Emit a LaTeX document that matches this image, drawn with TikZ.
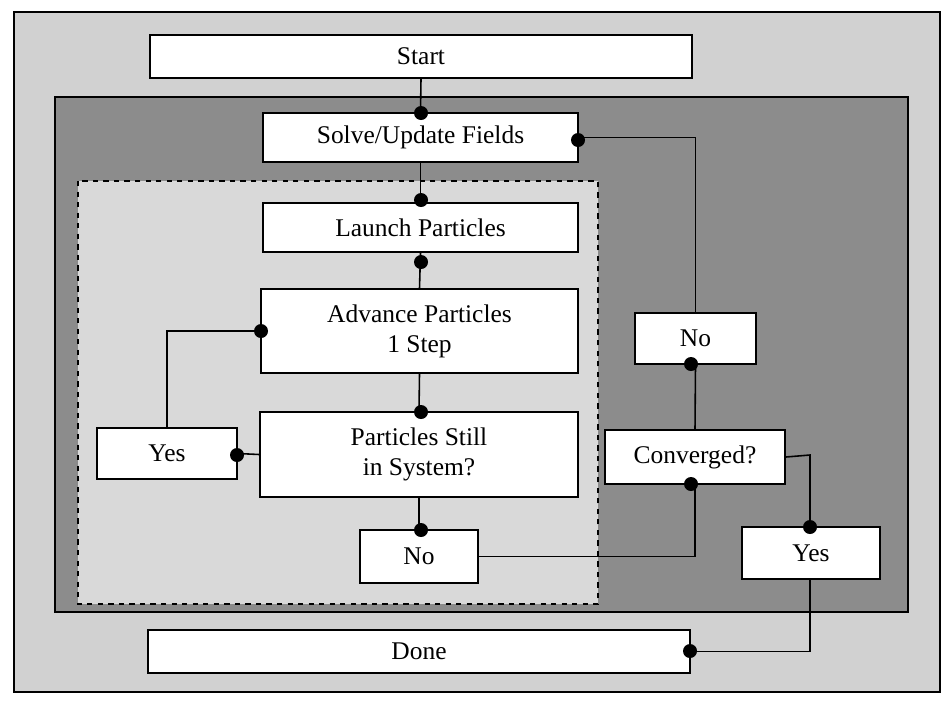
\documentclass[tikz,border=0pt]{standalone}
\usepackage{fontspec}
\setmainfont{Liberation Serif}
\begin{document}
\begin{tikzpicture}[x=0.02cm,y=-0.02cm,
  box/.style={draw=black,line width=0.9pt,fill=white,font=\fontsize{14.5}{17}\selectfont,align=center,inner sep=0pt},
  dot/.style={circle,fill=black,inner sep=0pt,minimum size=0.28cm},
  ln/.style={line width=0.9pt}]
\useasboundingbox (0,0) rectangle (952,704);
\fill[white] (0,0) rectangle (952,704);
\draw[line width=1pt,fill=black!18] (14,12) rectangle (940,692);
\draw[line width=1pt,fill=black!45] (55,97) rectangle (908,612);
\draw[line width=1pt,dashed,fill=black!15] (78,181) rectangle (598,604);
\newcommand\bx[6]{\node[box,minimum width={(#4-#2)*0.02cm},minimum height={(#5-#3)*0.02cm}] (#1) at ({(#2+#4)/2},{(#3+#5)/2}) {#6};}
\bx{start}{150}{35}{692}{78}{Start}
\bx{solve}{263}{113}{578}{162}{Solve/Update Fields}
\bx{launch}{263}{203}{578}{252}{Launch Particles}
\bx{adv}{261}{289}{578}{373}{Advance Particles\\1 Step}
\bx{still}{260}{412}{578}{497}{Particles Still\\in System?}
\bx{yesl}{97}{428}{237}{479}{Yes}
\bx{nob}{360}{530}{478}{583}{No}
\bx{nor}{635}{313}{756}{364}{No}
\bx{conv}{605}{430}{785}{484}{Converged?}
\bx{yesr}{742}{527}{880}{579}{Yes}
\bx{done}{148}{630}{690}{673}{Done}
\draw[ln] (start.south) -- (solve.north);
\draw[ln] (solve.south) -- (launch.north);
\draw[ln] (launch.south) -- (adv.north);
\draw[ln] (adv.south) -- (still.north);
\draw[ln] (still.south) -- (nob.north);
\draw[ln] (still.west) -- (yesl.east);
\draw[ln] (yesl.north) |- (adv.west);
\draw[ln] (nob.east) -| (conv.south);
\draw[ln] (conv.north) -- (nor.south);
\draw[ln] (nor.north) |- (solve.east);
\coordinate (cr) at (810,455);
\draw[ln] (conv.east) -- (cr) -- (yesr.north -| cr);
\draw[ln] (yesr.south -| cr) |- (done.east);
\foreach \p in {(421,113),(421,200),(421,262),(261,331),(421,412),(237,455),(421,530),(691,484),(691,364),(578,140),(810,527),(690,651)}
  \node[dot] at \p {};
\end{tikzpicture}
\end{document}
